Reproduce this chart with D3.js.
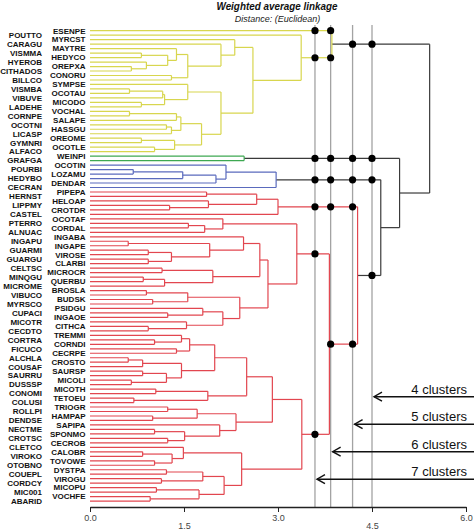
<!DOCTYPE html>
<html><head><meta charset="utf-8">
<script src="https://cdn.jsdelivr.net/npm/d3@7"></script>
<style>body{margin:0;background:#fff}svg{display:block}</style>
</head><body><svg id="c" width="474" height="530"></svg>
<script>
// ---- data ----
const rightLabels = ["ESENPE","MYRCST","MAYTRE","HEDYCO","OREPXA","CONORU","SYMPSE","OCOTAU","MICODO","VOCHAL","SALAPE","HASSGU","OREOME","OCOTLE","WEINPI","OCOTIN","LOZAMU","DENDAR","PIPEPA","HELOAP","CROTDR","OCOTAF","CORDAL","INGABA","INGAPE","VIROSE","CLARBI","MICROCR","QUERBU","BROSLA","BUDSK","PSIDGU","INGAOE","CITHCA","TREMMI","CORNDI","CECRPE","CROSTO","SAURSP","MICOLI","MICOTH","TETOEU","TRIOGR","HAMPAP","SAPIPA","SPONMO","CECROB","CALOBR","TOVOWE","DYSTPA","VIROGU","MICOPU","VOCHFE"];
const leftLabels = ["POUTTO","CARAGU","VISMMA","HYEROB","CITHADOS","BILLCO","VISMBA","VIBUVE","LADEHE","CORNPE","OCOTNI","LICASP","GYMNRI","ALFACO","GRAFGA","POURBI","HEDYBO","CECRAN","HERNST","LIPPMY","CASTEL","PTERRO","ALNUAC","INGAPU","GUARMI","GUARGU","CELTSC","MINQGU","MICROME","VIBUCO","MYRSCO","CUPACI","MICOTR","CECDTO","CORTRA","FICUCO","ALCHLA","COUSAF","SAURRU","DUSSSP","CONOMI","COLUSI","ROLLPI","DENDSE","NECTME","CROTSC","CLETCO","VIROKO","OTOBNO","COUEPL","CORDCY","MIC001","ABARID"];

// merges: [height, childA, childB]; numbers = leaf positions (top to bottom)
const yellowTree = [3.86, 0, [3.37, 1, [2.60,
  [2.31, 2, [2.09, 3, [1.56, [1.38, 4, [1.24, [0.82, 5, 6], [0.90, 7, [0.66, 8, 9]]]], [1.30, 10, 11]]]],
  [2.09, [1.56, 12, [1.19, [1.16, [0.63, 13, 14], 15], [0.82, 16, 17]]],
         [1.78, [1.45, [1.38, [0.63, 18, 19], 20], [1.30, [1.22, 21, 22], 23]], [1.35, [0.82, 24, 25], [1.03, 26, 27]]]]]]];
const greenTree = [2.46, 28, 29];
const blueTree = [2.97, [2.17, 30, [2.01, [1.48, [0.69, 31, 32], 33], 34]], 35];
const redTopTree = [3.00, [2.66, [1.86, 36, 37], [1.89, 38, [1.27, 39, 40]]], 41];
const redATree = [3.30, [2.12, 42, [1.83, [1.57, 43, 44], 45]],
  [2.84,
    [2.71, [2.45, 46, [1.91, [0.61, 47, 48], [1.30, [0.93, 49, 50], [0.93, 51, 52]]]],
           [1.96, [1.15, 53, 54], [1.19, [0.85, 55, 56], 57]]],
    [2.39, [1.56, [0.90, 58, 59], [1.00, 60, 61]],
           [2.12, [1.80, 62, [1.24, 63, 64]], [1.54, 65, [0.93, 66, 67]]]]]];
const redBTree = [3.38,
  [2.91,
    [2.50,
      [1.99, [1.59, [1.46, 68, [1.03, 69, 70]], [1.38, 71, 72]], [1.46, [0.84, [0.61, 73, 74], 75], [1.22, [0.84, 76, 77], [0.66, 78, 79]]]],
      [1.88, [1.05, 80, 81], [0.70, 82, 83]]],
    [2.33, [1.71, [1.24, 84, 85], [1.00, 86, 87]], [2.07, 88, [1.51, [1.03, 89, 90], [1.24, 91, 92]]]]],
  [2.42, [1.49, 93, [1.31, [0.84, 94, 95], [1.03, 96, 97]]],
         [2.14, [1.80, [1.22, 98, 99], [1.14, 100, 101]], [1.74, [1.06, 102, 103], [0.96, 104, 105]]]]];
const redMergeHeights = [4.27, 3.82];       // red top + (A,B) ; A + B
const topMergeHeights = [5.42, 4.94, 4.64]; // root ; green+rest ; blue+red
const cutHeights = [4.5, 4.19, 3.84, 3.59];
const cutLabels = ["4 clusters", "5 clusters", "6 clusters", "7 clusters"];
const axisTicks = [0, 1.5, 3.0, 4.5, 6.0];
const colors = {yellow: "#d8d64e", green: "#3ea852", blue: "#5a6abd", red: "#e2464f", link: "#3a3a3a"};

// ---- build ----
const leafOrder = [];
for (let k = 0; k < rightLabels.length; k++) { leafOrder.push(rightLabels[k]); leafOrder.push(leftLabels[k]); }

function build(n, color) {
  if (typeof n === "number") return {h: 0, name: leafOrder[n], idx: n, color};
  return {h: n[0], color, children: [build(n[1], color), build(n[2], color)]};
}
const redNode = {h: redMergeHeights[0], color: colors.red, children: [
  build(redTopTree, colors.red),
  {h: redMergeHeights[1], color: colors.red, children: [build(redATree, colors.red), build(redBTree, colors.red)]}
]};
const rootObj = {h: topMergeHeights[0], color: colors.link, children: [
  build(yellowTree, colors.yellow),
  {h: topMergeHeights[1], color: colors.link, children: [
    build(greenTree, colors.green),
    {h: topMergeHeights[2], color: colors.link, children: [build(blueTree, colors.blue), redNode]}
  ]}
]};

const svg = d3.select("#c");
const x = d3.scaleLinear().domain([0, 6]).range([90, 466]);
const y = d3.scalePoint().domain(leafOrder).range([30.7, 501.1]);
const axisY = 507;

const root = d3.hierarchy(rootObj, d => d.children);
root.eachAfter(n => {
  if (!n.children) n.yy = y(n.data.name);
  else n.yy = d3.mean(n.children, c => c.yy);
});

// cut lines
svg.append("g").selectAll("line").data(cutHeights).join("line")
  .attr("x1", d => x(d)).attr("x2", d => x(d)).attr("y1", 25).attr("y2", axisY)
  .attr("stroke", "#a3a3a3").attr("stroke-width", 1.3);

// tree
const tg = svg.append("g").attr("fill", "none").attr("stroke-width", 1.2);
const nodes = root.descendants();
tg.selectAll("line.h").data(nodes.filter(n => n.parent)).join("line").attr("class", "h")
  .attr("x1", n => x(n.data.h)).attr("x2", n => x(n.parent.data.h))
  .attr("y1", n => n.yy).attr("y2", n => n.yy)
  .attr("stroke", n => n.parent.data.color);
tg.selectAll("line.v").data(nodes.filter(n => n.children)).join("line").attr("class", "v")
  .attr("x1", n => x(n.data.h)).attr("x2", n => x(n.data.h))
  .attr("y1", n => d3.min(n.children, c => c.yy)).attr("y2", n => d3.max(n.children, c => c.yy))
  .attr("stroke", n => n.data.color);

// dots where cuts cross branches
const dots = [];
cutHeights.forEach(c => nodes.forEach(n => {
  if (n.parent && n.data.h < c && n.parent.data.h > c) dots.push({c, yy: n.yy});
}));
svg.append("g").selectAll("circle").data(dots).join("circle")
  .attr("cx", d => x(d.c)).attr("cy", d => d.yy).attr("r", 3.6).attr("fill", "#000");

// labels
const lg = svg.append("g").attr("font-family", "Liberation Sans, Arial, sans-serif")
  .attr("font-size", 8).attr("font-weight", "bold").attr("fill", "#111").attr("text-anchor", "end");
lg.selectAll("text").data(leafOrder).join("text")
  .attr("x", (d, i) => i % 2 === 0 ? 85.5 : 42)
  .attr("y", d => y(d)).attr("dy", "0.35em").text(d => d);

// axis
const ax = svg.append("g").attr("transform", `translate(0,${axisY})`)
  .call(d3.axisBottom(x).tickValues(axisTicks).tickFormat(d3.format(".1f")).tickSize(5).tickSizeOuter(0));
ax.select(".domain").attr("stroke", "#222").attr("stroke-width", 1.3);
ax.selectAll(".tick line").attr("stroke", "#222");
ax.selectAll(".tick text").attr("font-family", "Liberation Sans, Arial, sans-serif").attr("font-size", 9)
  .attr("fill", "#444").attr("dy", 0).attr("y", (d, i) => i % 2 ? 22 : 14);

// title
svg.append("text").attr("x", 277).attr("y", 9.5).attr("text-anchor", "middle")
  .attr("font-family", "Liberation Sans, Arial, sans-serif").attr("font-size", 10.5)
  .attr("font-weight", "bold").attr("font-style", "italic").attr("fill", "#111")
  .attr("textLength", 121).attr("lengthAdjust", "spacingAndGlyphs").text("Weighted average linkage");
svg.append("text").attr("x", 277.5).attr("y", 21.5).attr("text-anchor", "middle")
  .attr("font-family", "Liberation Sans, Arial, sans-serif").attr("font-size", 9)
  .attr("font-style", "italic").attr("fill", "#222").text("Distance: (Euclidean)");

// cluster arrows
const arrowY = i => 396.7 + i * 27.5;
const ag = svg.append("g");
cutHeights.forEach((c, i) => {
  const yy = arrowY(i), tip = x(c) + 2;
  ag.append("line").attr("x1", 474).attr("x2", tip).attr("y1", yy).attr("y2", yy)
    .attr("stroke", "#111").attr("stroke-width", 1.4);
  ag.append("path").attr("d", `M${tip + 8},${yy - 4.5}L${tip},${yy}L${tip + 8},${yy + 4.5}`)
    .attr("fill", "none").attr("stroke", "#111").attr("stroke-width", 1.4);
  ag.append("text").attr("x", 467).attr("y", yy - 3).attr("text-anchor", "end")
    .attr("font-family", "Liberation Sans, Arial, sans-serif").attr("font-size", 13)
    .attr("fill", "#111").text(cutLabels[i]);
});
</script>
</body></html>
